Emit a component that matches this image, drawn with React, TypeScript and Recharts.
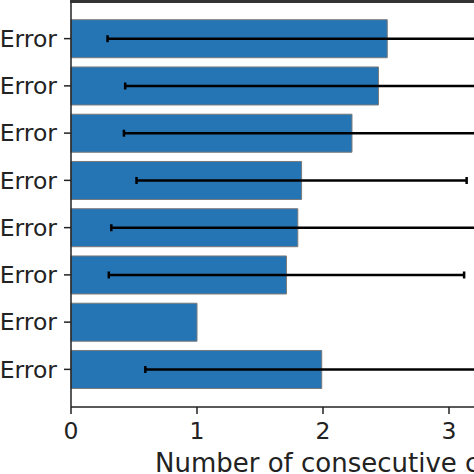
import { BarChart, Bar, XAxis, YAxis, ErrorBar } from 'recharts';

const categories = ['Error', 'Error', 'Error', 'Error', 'Error', 'Error', 'Error', 'Error'];
const means = [2.51, 2.44, 2.23, 1.83, 1.8, 1.71, 1.0, 1.99];
const errors = [2.22, 2.01, 1.81, 1.31, 1.48, 1.41, 0, 1.4];
const xTicks = [0, 1, 2, 3, 4, 5];
const xLabel = 'Number of consecutive correct answers';

const data = categories.map((name, i) => ({
  name,
  value: means[i],
  err: errors[i],
}));

const font = '"DejaVu Sans", sans-serif';
const ink = '#222';

export default function App() {
  return (
    <div
      style={{
        position: 'absolute',
        left: 0,
        top: 0,
        width: 474,
        height: 474,
        overflow: 'hidden',
        background: '#fff',
        fontFamily: font,
      }}
    >
      <BarChart
        width={711}
        height={480}
        data={data}
        layout="vertical"
        barCategoryGap="10%"
        margin={{ top: 1, right: 10, bottom: 0, left: 0 }}
      >
        <XAxis
          type="number"
          domain={[0, 5]}
          ticks={xTicks}
          height={73}
          tickSize={7}
          tickMargin={8}
          stroke={ink}
          strokeWidth={1.5}
          tick={{ fill: ink, fontSize: 23.5, fontFamily: font }}
          label={({ viewBox }: any) => (
            <text
              x={viewBox.x + 84}
              y={472}
              fill={ink}
              fontSize={26}
              fontFamily={font}
              textAnchor="start"
            >
              {xLabel}
            </text>
          )}
        />
        <YAxis
          type="category"
          dataKey="name"
          width={71}
          padding={{ top: 14, bottom: 14 }}
          tickSize={7}
          tickMargin={7}
          stroke={ink}
          strokeWidth={1.5}
          tick={{ fill: ink, fontSize: 23.5, fontFamily: font }}
        />
        <Bar
          dataKey="value"
          fill="#2575b5"
          stroke="#7a7a7a"
          strokeWidth={1}
          isAnimationActive={false}
        >
          <ErrorBar
            dataKey="err"
            direction="x"
            width={3.5}
            stroke="#000"
            strokeWidth={2.5}
            isAnimationActive={false}
          />
        </Bar>
      </BarChart>
      {/* top spine */}
      <div
        style={{
          position: 'absolute',
          left: 70,
          top: 0,
          width: 404,
          height: 3,
          background: '#333',
        }}
      />
    </div>
  );
}
